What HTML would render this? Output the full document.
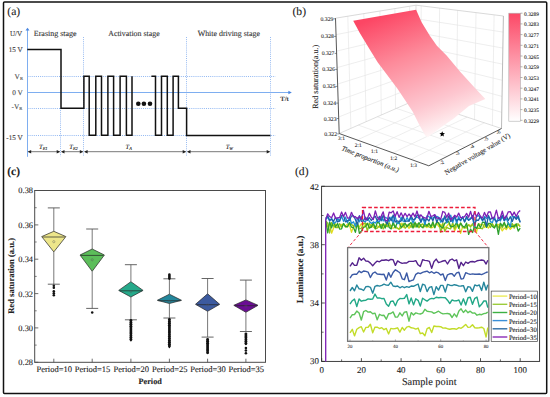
<!DOCTYPE html>
<html><head><meta charset="utf-8"><style>
html,body{margin:0;padding:0;background:#fff;width:550px;height:397px;overflow:hidden}
svg{display:block}
text{font-family:"Liberation Serif",serif;text-rendering:geometricPrecision}
</style></head><body>
<svg width="550" height="397" viewBox="0 0 550 397">
<rect width="550" height="397" fill="#fff"/>
<rect x="3.5" y="2.1" width="543.2" height="391.4" rx="1" fill="none" stroke="#111" stroke-width="1.5"/>
<text x="7.3" y="15.1" font-size="11.6" fill="#222" stroke="#222" stroke-width="0.1">(a)</text>
<line x1="27.5" y1="29.5" x2="27.5" y2="156.8" stroke="#7eaef0" stroke-width="1"/>
<path d="M27.5,27.8 L25.5,30.4 L29.5,30.4 Z" fill="#4a86e0"/>
<line x1="27.5" y1="92.5" x2="289" y2="92.5" stroke="#7eaef0" stroke-width="1"/>
<path d="M291.8,92.5 L288.4,90.8 L288.4,94.2 Z" fill="#4a86e0"/>
<line x1="27.5" y1="76.5" x2="275.5" y2="76.5" stroke="#86b0f0" stroke-width="0.9" stroke-dasharray="1,1.1"/>
<line x1="27.5" y1="108.5" x2="275.5" y2="108.5" stroke="#86b0f0" stroke-width="0.9" stroke-dasharray="1,1.1"/>
<line x1="27.5" y1="135.5" x2="275.5" y2="135.5" stroke="#86b0f0" stroke-width="0.9" stroke-dasharray="1,1.1"/>
<line x1="60.5" y1="108" x2="60.5" y2="156.5" stroke="#86b0f0" stroke-width="0.85" stroke-dasharray="1,1.1"/>
<line x1="83.5" y1="37" x2="83.5" y2="156.5" stroke="#86b0f0" stroke-width="0.85" stroke-dasharray="1,1.1"/>
<line x1="186.5" y1="37" x2="186.5" y2="156.5" stroke="#86b0f0" stroke-width="0.85" stroke-dasharray="1,1.1"/>
<line x1="270.5" y1="37" x2="270.5" y2="156.5" stroke="#86b0f0" stroke-width="0.85" stroke-dasharray="1,1.1"/>
<path d="M27.3,49.4 H61 V108.3 H83.9 V76.3 H89.2 V135.3 H95.8 V76.3 H101.5 V135.3 H107.9 V76.3 H113.6 V135.3 H120.1 V76.3 H126.4 V135.3 H132 V76.3 M151.4,76.3 H155.5 V135.3 H161.5 V76.3 H167.3 V135.3 H173.1 V76.3 H178.4 V108.3 H186.6 V135.4 H270.4" fill="none" stroke="#111" stroke-width="1.5" stroke-linejoin="miter"/>
<circle cx="138.3" cy="103.8" r="2.3" fill="#111"/>
<circle cx="143.9" cy="103.8" r="2.3" fill="#111"/>
<circle cx="150.0" cy="103.8" r="2.3" fill="#111"/>
<text x="22.2" y="35.8" font-size="7.1" fill="#444" stroke="#444" stroke-width="0.1" text-anchor="end">U/V</text>
<text x="22.6" y="51.7" font-size="7.1" fill="#444" stroke="#444" stroke-width="0.1" text-anchor="end">15 V</text>
<text x="14.6" y="78.7" font-size="7.3" fill="#444" stroke="#444" stroke-width="0.1">V<tspan font-size="4.6" dy="1.3">R</tspan></text>
<text x="22.8" y="94.5" font-size="7.3" fill="#444" stroke="#444" stroke-width="0.1" text-anchor="end">0 V</text>
<text x="11.6" y="109" font-size="7.3" fill="#444" stroke="#444" stroke-width="0.1">-V<tspan font-size="4.6" dy="1.3">R</tspan></text>
<text x="22.6" y="139.5" font-size="7.1" fill="#444" stroke="#444" stroke-width="0.1" text-anchor="end">-15 V</text>
<text x="33.8" y="36.4" font-size="8.0" fill="#333" stroke="#333" stroke-width="0.1">Erasing stage</text>
<text x="108.2" y="36.4" font-size="7.9" fill="#333" stroke="#333" stroke-width="0.1">Activation stage</text>
<text x="197.7" y="36.4" font-size="7.9" fill="#333" stroke="#333" stroke-width="0.1">White driving stage</text>
<text x="280.3" y="101" font-size="6.6" fill="#3a3a3a" stroke="#3a3a3a" stroke-width="0.1" font-weight="bold">T/t</text>
<line x1="28.6" y1="151.7" x2="59.3" y2="151.7" stroke="#555" stroke-width="0.8"/><path d="M27.6,151.7 L31.200000000000003,150.0 L31.200000000000003,153.39999999999998 Z" fill="#222"/><path d="M60.3,151.7 L56.699999999999996,150.0 L56.699999999999996,153.39999999999998 Z" fill="#222"/>
<line x1="61.9" y1="151.7" x2="82.4" y2="151.7" stroke="#555" stroke-width="0.8"/><path d="M60.9,151.7 L64.5,150.0 L64.5,153.39999999999998 Z" fill="#222"/><path d="M83.4,151.7 L79.80000000000001,150.0 L79.80000000000001,153.39999999999998 Z" fill="#222"/>
<line x1="85.0" y1="151.7" x2="185.3" y2="151.7" stroke="#555" stroke-width="0.8"/><path d="M84.0,151.7 L87.6,150.0 L87.6,153.39999999999998 Z" fill="#222"/><path d="M186.3,151.7 L182.70000000000002,150.0 L182.70000000000002,153.39999999999998 Z" fill="#222"/>
<line x1="187.9" y1="151.7" x2="269.3" y2="151.7" stroke="#555" stroke-width="0.8"/><path d="M186.9,151.7 L190.5,150.0 L190.5,153.39999999999998 Z" fill="#222"/><path d="M270.3,151.7 L266.7,150.0 L266.7,153.39999999999998 Z" fill="#222"/>
<text x="43.3" y="148.9" font-size="6.6" font-style="italic" fill="#222" stroke="#222" stroke-width="0.1" text-anchor="middle">T<tspan font-size="4.4" dy="0.8">E1</tspan></text>
<text x="73.5" y="148.9" font-size="6.6" font-style="italic" fill="#222" stroke="#222" stroke-width="0.1" text-anchor="middle">T<tspan font-size="4.4" dy="0.8">E2</tspan></text>
<text x="128.8" y="148.9" font-size="6.6" font-style="italic" fill="#222" stroke="#222" stroke-width="0.1" text-anchor="middle">T<tspan font-size="4.4" dy="0.8">A</tspan></text>
<text x="229.3" y="148.9" font-size="6.6" font-style="italic" fill="#222" stroke="#222" stroke-width="0.1" text-anchor="middle">T<tspan font-size="4.4" dy="0.8">W</tspan></text>
<text x="292.5" y="15.1" font-size="11.6" fill="#222" stroke="#222" stroke-width="0.1">(b)</text>
<line x1="347.8" y1="16.2" x2="350.9" y2="128.4" stroke="#e3e3e3" stroke-width="0.6"/>
<line x1="363.8" y1="13.6" x2="366.1" y2="121.7" stroke="#e3e3e3" stroke-width="0.6"/>
<line x1="379.9" y1="11.0" x2="381.3" y2="115.0" stroke="#e3e3e3" stroke-width="0.6"/>
<line x1="394.9" y1="8.6" x2="395.5" y2="108.8" stroke="#e3e3e3" stroke-width="0.6"/>
<line x1="409.6" y1="6.2" x2="409.4" y2="102.7" stroke="#e3e3e3" stroke-width="0.6"/>
<line x1="336.0" y1="34.7" x2="415.9" y2="18.7" stroke="#e3e3e3" stroke-width="0.6"/>
<line x1="336.6" y1="51.1" x2="415.9" y2="32.3" stroke="#e3e3e3" stroke-width="0.6"/>
<line x1="337.1" y1="67.6" x2="415.8" y2="45.8" stroke="#e3e3e3" stroke-width="0.6"/>
<line x1="337.6" y1="84.1" x2="415.7" y2="59.4" stroke="#e3e3e3" stroke-width="0.6"/>
<line x1="338.1" y1="100.6" x2="415.6" y2="72.9" stroke="#e3e3e3" stroke-width="0.6"/>
<line x1="338.7" y1="117.0" x2="415.6" y2="86.5" stroke="#e3e3e3" stroke-width="0.6"/>
<line x1="421.2" y1="5.8" x2="420.7" y2="101.7" stroke="#e3e3e3" stroke-width="0.6"/>
<line x1="439.6" y1="8.1" x2="438.7" y2="107.7" stroke="#e3e3e3" stroke-width="0.6"/>
<line x1="457.6" y1="10.3" x2="456.4" y2="113.6" stroke="#e3e3e3" stroke-width="0.6"/>
<line x1="476.0" y1="12.6" x2="474.5" y2="119.6" stroke="#e3e3e3" stroke-width="0.6"/>
<line x1="494.1" y1="14.9" x2="492.4" y2="125.5" stroke="#e3e3e3" stroke-width="0.6"/>
<line x1="415.9" y1="18.7" x2="503.1" y2="32.1" stroke="#e3e3e3" stroke-width="0.6"/>
<line x1="415.9" y1="32.3" x2="502.9" y2="48.1" stroke="#e3e3e3" stroke-width="0.6"/>
<line x1="415.8" y1="45.8" x2="502.6" y2="64.2" stroke="#e3e3e3" stroke-width="0.6"/>
<line x1="415.7" y1="59.4" x2="502.3" y2="80.3" stroke="#e3e3e3" stroke-width="0.6"/>
<line x1="415.6" y1="72.9" x2="502.0" y2="96.4" stroke="#e3e3e3" stroke-width="0.6"/>
<line x1="415.6" y1="86.5" x2="501.8" y2="112.4" stroke="#e3e3e3" stroke-width="0.6"/>
<line x1="358.3" y1="125.1" x2="447.0" y2="156.5" stroke="#e3e3e3" stroke-width="0.6"/>
<line x1="377.4" y1="116.8" x2="465.1" y2="147.2" stroke="#e3e3e3" stroke-width="0.6"/>
<line x1="396.4" y1="108.4" x2="483.3" y2="137.8" stroke="#e3e3e3" stroke-width="0.6"/>
<line x1="357.1" y1="140.0" x2="432.7" y2="105.7" stroke="#e3e3e3" stroke-width="0.6"/>
<line x1="375.0" y1="146.4" x2="449.9" y2="111.4" stroke="#e3e3e3" stroke-width="0.6"/>
<line x1="393.0" y1="152.9" x2="467.1" y2="117.1" stroke="#e3e3e3" stroke-width="0.6"/>
<line x1="410.9" y1="159.3" x2="484.3" y2="122.8" stroke="#e3e3e3" stroke-width="0.6"/>
<line x1="335.5" y1="18.2" x2="416.0" y2="5.2" stroke="#c8c8c8" stroke-width="0.7"/>
<line x1="416.0" y1="5.2" x2="503.4" y2="16.0" stroke="#c8c8c8" stroke-width="0.7"/>
<line x1="416.0" y1="5.2" x2="415.5" y2="100.0" stroke="#c8c8c8" stroke-width="0.6"/>
<line x1="503.4" y1="16.0" x2="501.5" y2="128.5" stroke="#aaa" stroke-width="0.8"/>
<line x1="339.2" y1="133.5" x2="415.5" y2="100.0" stroke="#c8c8c8" stroke-width="0.6"/>
<line x1="415.5" y1="100.0" x2="501.5" y2="128.5" stroke="#c8c8c8" stroke-width="0.6"/>
<line x1="335.5" y1="18.2" x2="339.2" y2="133.5" stroke="#444" stroke-width="0.9"/>
<line x1="339.2" y1="133.5" x2="428.8" y2="165.8" stroke="#444" stroke-width="0.9"/>
<line x1="428.8" y1="165.8" x2="501.5" y2="128.5" stroke="#444" stroke-width="0.9"/>
<defs><linearGradient id="sg" gradientUnits="userSpaceOnUse" x1="384" y1="14" x2="432" y2="135"><stop offset="0" stop-color="rgb(252,70,100)"/><stop offset="0.37" stop-color="rgb(253,138,154)"/><stop offset="0.77" stop-color="rgb(253,199,208)"/><stop offset="0.86" stop-color="rgb(254,217,222)"/><stop offset="1" stop-color="rgb(255,246,247)"/></linearGradient><linearGradient id="cb" x1="0" y1="0" x2="0" y2="1"><stop offset="0" stop-color="rgb(252,72,102)"/><stop offset="1" stop-color="#ffffff"/></linearGradient></defs>
<path d="M353.2,20.8 L416.1,9.7 L421.6,22.2 L430,36 L436.9,45.7 L446.6,55.4 L460.4,72 L474.3,87.3 L485.3,99 L469,106 L453.8,118.5 L440,128 L427.7,137.2 L425.2,135.4 L418.9,124 L412.6,111.4 L405,100 L397.5,88.7 L387.6,75.6 L377.8,62.5 L369.6,49.3 L359.8,33 Z" fill="url(#sg)"/>
<polygon points="442.20,131.20 442.97,133.04 444.96,133.20 443.44,134.50 443.90,136.45 442.20,135.41 440.50,136.45 440.96,134.50 439.44,133.20 441.43,133.04" fill="#000"/>
<line x1="333.5192541196878" y1="18.8" x2="335.5192541196878" y2="18.8" stroke="#444" stroke-width="0.6"/>
<text x="333.3192541196878" y="20.8" font-size="5.7" fill="#333" stroke="#333" stroke-width="0.1" text-anchor="end">0.329</text>
<line x1="334.08404163052904" y1="36.4" x2="336.08404163052904" y2="36.4" stroke="#444" stroke-width="0.6"/>
<text x="333.88404163052905" y="38.4" font-size="5.7" fill="#333" stroke="#333" stroke-width="0.1" text-anchor="end">0.328</text>
<line x1="334.62957502168257" y1="53.4" x2="336.62957502168257" y2="53.4" stroke="#444" stroke-width="0.6"/>
<text x="334.4295750216826" y="55.4" font-size="5.7" fill="#333" stroke="#333" stroke-width="0.1" text-anchor="end">0.327</text>
<line x1="335.14301821335647" y1="69.4" x2="337.14301821335647" y2="69.4" stroke="#444" stroke-width="0.6"/>
<text x="334.9430182133565" y="71.4" font-size="5.7" fill="#333" stroke="#333" stroke-width="0.1" text-anchor="end">0.326</text>
<line x1="335.68855160451" y1="86.4" x2="337.68855160451" y2="86.4" stroke="#444" stroke-width="0.6"/>
<text x="335.48855160451" y="88.4" font-size="5.7" fill="#333" stroke="#333" stroke-width="0.1" text-anchor="end">0.325</text>
<line x1="336.2244579358196" y1="103.1" x2="338.2244579358196" y2="103.1" stroke="#444" stroke-width="0.6"/>
<text x="336.0244579358196" y="105.1" font-size="5.7" fill="#333" stroke="#333" stroke-width="0.1" text-anchor="end">0.324</text>
<line x1="336.7186470078057" y1="118.5" x2="338.7186470078057" y2="118.5" stroke="#444" stroke-width="0.6"/>
<text x="336.5186470078057" y="120.5" font-size="5.7" fill="#333" stroke="#333" stroke-width="0.1" text-anchor="end">0.323</text>
<line x1="337.2128360797918" y1="133.9" x2="339.2128360797918" y2="133.9" stroke="#444" stroke-width="0.6"/>
<text x="337.01283607979184" y="135.9" font-size="5.7" fill="#333" stroke="#333" stroke-width="0.1" text-anchor="end">0.322</text>
<text transform="translate(317.5,76.8) rotate(-90)" font-size="8.1" fill="#2a2a2a" stroke="#2a2a2a" stroke-width="0.1" text-anchor="middle">Red saturation(a.u.)</text>
<text x="341.5" y="140.3" font-size="5.4" fill="#333" stroke="#333" stroke-width="0.1" text-anchor="middle">3:1</text>
<text x="358.2" y="146.70000000000002" font-size="5.4" fill="#333" stroke="#333" stroke-width="0.1" text-anchor="middle">2:1</text>
<text x="374.5" y="153.1" font-size="5.4" fill="#333" stroke="#333" stroke-width="0.1" text-anchor="middle">1:1</text>
<text x="393.7" y="159.5" font-size="5.4" fill="#333" stroke="#333" stroke-width="0.1" text-anchor="middle">1:2</text>
<text x="413.6" y="167.1" font-size="5.4" fill="#333" stroke="#333" stroke-width="0.1" text-anchor="middle">1:3</text>
<text transform="translate(369.6,161.2) rotate(21.5)" font-size="6.85" font-style="italic" fill="#2a2a2a" stroke="#2a2a2a" stroke-width="0.1" text-anchor="middle">Time proportion (a.u.)</text>
<text transform="translate(442.7,164.1) rotate(-30)" font-size="5" fill="#333" stroke="#333" stroke-width="0.1" text-anchor="middle">-2</text>
<text transform="translate(458.2,155.0) rotate(-30)" font-size="5" fill="#333" stroke="#333" stroke-width="0.1" text-anchor="middle">-3</text>
<text transform="translate(472.7,148.3) rotate(-30)" font-size="5" fill="#333" stroke="#333" stroke-width="0.1" text-anchor="middle">-4</text>
<text transform="translate(486.9,140.5) rotate(-30)" font-size="5" fill="#333" stroke="#333" stroke-width="0.1" text-anchor="middle">-5</text>
<text transform="translate(499.1,133.8) rotate(-30)" font-size="5" fill="#333" stroke="#333" stroke-width="0.1" text-anchor="middle">-6</text>
<text transform="translate(478.6,155.9) rotate(-30.5)" font-size="6.9" fill="#2a2a2a" stroke="#2a2a2a" stroke-width="0.1" text-anchor="middle">Negative voltage value (V)</text>
<rect x="508.8" y="13.2" width="11.7" height="108" fill="url(#cb)" stroke="#b0b0b0" stroke-width="0.6"/>
<line x1="520.5" y1="13.2" x2="522.5" y2="13.2" stroke="#666" stroke-width="0.5"/>
<text x="524.1" y="15.7" font-size="5.4" fill="#1e1e1e" stroke="#1e1e1e" stroke-width="0.1">0.3289</text>
<line x1="520.5" y1="23.9" x2="522.5" y2="23.9" stroke="#666" stroke-width="0.5"/>
<text x="524.1" y="26.4" font-size="5.4" fill="#1e1e1e" stroke="#1e1e1e" stroke-width="0.1">0.3283</text>
<line x1="520.5" y1="34.6" x2="522.5" y2="34.6" stroke="#666" stroke-width="0.5"/>
<text x="524.1" y="37.1" font-size="5.4" fill="#1e1e1e" stroke="#1e1e1e" stroke-width="0.1">0.3277</text>
<line x1="520.5" y1="45.3" x2="522.5" y2="45.3" stroke="#666" stroke-width="0.5"/>
<text x="524.1" y="47.8" font-size="5.4" fill="#1e1e1e" stroke="#1e1e1e" stroke-width="0.1">0.3271</text>
<line x1="520.5" y1="56.0" x2="522.5" y2="56.0" stroke="#666" stroke-width="0.5"/>
<text x="524.1" y="58.5" font-size="5.4" fill="#1e1e1e" stroke="#1e1e1e" stroke-width="0.1">0.3265</text>
<line x1="520.5" y1="66.8" x2="522.5" y2="66.8" stroke="#666" stroke-width="0.5"/>
<text x="524.1" y="69.2" font-size="5.4" fill="#1e1e1e" stroke="#1e1e1e" stroke-width="0.1">0.3259</text>
<line x1="520.5" y1="77.5" x2="522.5" y2="77.5" stroke="#666" stroke-width="0.5"/>
<text x="524.1" y="80.0" font-size="5.4" fill="#1e1e1e" stroke="#1e1e1e" stroke-width="0.1">0.3253</text>
<line x1="520.5" y1="88.2" x2="522.5" y2="88.2" stroke="#666" stroke-width="0.5"/>
<text x="524.1" y="90.7" font-size="5.4" fill="#1e1e1e" stroke="#1e1e1e" stroke-width="0.1">0.3247</text>
<line x1="520.5" y1="98.9" x2="522.5" y2="98.9" stroke="#666" stroke-width="0.5"/>
<text x="524.1" y="101.4" font-size="5.4" fill="#1e1e1e" stroke="#1e1e1e" stroke-width="0.1">0.3241</text>
<line x1="520.5" y1="109.6" x2="522.5" y2="109.6" stroke="#666" stroke-width="0.5"/>
<text x="524.1" y="112.1" font-size="5.4" fill="#1e1e1e" stroke="#1e1e1e" stroke-width="0.1">0.3235</text>
<line x1="520.5" y1="120.3" x2="522.5" y2="120.3" stroke="#666" stroke-width="0.5"/>
<text x="524.1" y="122.8" font-size="5.4" fill="#1e1e1e" stroke="#1e1e1e" stroke-width="0.1">0.3229</text>
<text x="7.3" y="175.2" font-size="11.4" fill="#222" stroke="#222" stroke-width="0.1" font-weight="bold">(c)</text>
<rect x="34.7" y="190.5" width="230.8" height="171.8" fill="none" stroke="#4a4a4a" stroke-width="1"/>
<line x1="34.7" y1="190.5" x2="38.300000000000004" y2="190.5" stroke="#4a4a4a" stroke-width="0.8"/>
<text x="33.0" y="193.4" font-size="8.4" fill="#222" stroke="#222" stroke-width="0.1" text-anchor="end">0.38</text>
<line x1="34.7" y1="224.9" x2="38.300000000000004" y2="224.9" stroke="#4a4a4a" stroke-width="0.8"/>
<text x="33.0" y="227.8" font-size="8.4" fill="#222" stroke="#222" stroke-width="0.1" text-anchor="end">0.36</text>
<line x1="34.7" y1="259.2" x2="38.300000000000004" y2="259.2" stroke="#4a4a4a" stroke-width="0.8"/>
<text x="33.0" y="262.1" font-size="8.4" fill="#222" stroke="#222" stroke-width="0.1" text-anchor="end">0.34</text>
<line x1="34.7" y1="293.6" x2="38.300000000000004" y2="293.6" stroke="#4a4a4a" stroke-width="0.8"/>
<text x="33.0" y="296.5" font-size="8.4" fill="#222" stroke="#222" stroke-width="0.1" text-anchor="end">0.32</text>
<line x1="34.7" y1="327.9" x2="38.300000000000004" y2="327.9" stroke="#4a4a4a" stroke-width="0.8"/>
<text x="33.0" y="330.8" font-size="8.4" fill="#222" stroke="#222" stroke-width="0.1" text-anchor="end">0.30</text>
<line x1="34.7" y1="362.3" x2="38.300000000000004" y2="362.3" stroke="#4a4a4a" stroke-width="0.8"/>
<text x="33.0" y="365.2" font-size="8.4" fill="#222" stroke="#222" stroke-width="0.1" text-anchor="end">0.28</text>
<line x1="34.7" y1="207.7" x2="36.7" y2="207.7" stroke="#4a4a4a" stroke-width="0.7"/>
<line x1="34.7" y1="242.0" x2="36.7" y2="242.0" stroke="#4a4a4a" stroke-width="0.7"/>
<line x1="34.7" y1="276.4" x2="36.7" y2="276.4" stroke="#4a4a4a" stroke-width="0.7"/>
<line x1="34.7" y1="310.8" x2="36.7" y2="310.8" stroke="#4a4a4a" stroke-width="0.7"/>
<line x1="34.7" y1="345.1" x2="36.7" y2="345.1" stroke="#4a4a4a" stroke-width="0.7"/>
<line x1="53.8" y1="362.3" x2="53.8" y2="358.7" stroke="#4a4a4a" stroke-width="0.8"/>
<line x1="92.2" y1="362.3" x2="92.2" y2="358.7" stroke="#4a4a4a" stroke-width="0.8"/>
<line x1="130.9" y1="362.3" x2="130.9" y2="358.7" stroke="#4a4a4a" stroke-width="0.8"/>
<line x1="169.4" y1="362.3" x2="169.4" y2="358.7" stroke="#4a4a4a" stroke-width="0.8"/>
<line x1="207.6" y1="362.3" x2="207.6" y2="358.7" stroke="#4a4a4a" stroke-width="0.8"/>
<line x1="245.9" y1="362.3" x2="245.9" y2="358.7" stroke="#4a4a4a" stroke-width="0.8"/>
<text x="54.199999999999996" y="372.2" font-size="8.5" fill="#1a1a1a" stroke="#1a1a1a" stroke-width="0.1" text-anchor="middle">Period=10</text>
<text x="92.60000000000001" y="372.2" font-size="8.5" fill="#1a1a1a" stroke="#1a1a1a" stroke-width="0.1" text-anchor="middle">Period=15</text>
<text x="131.3" y="372.2" font-size="8.5" fill="#1a1a1a" stroke="#1a1a1a" stroke-width="0.1" text-anchor="middle">Period=20</text>
<text x="169.8" y="372.2" font-size="8.5" fill="#1a1a1a" stroke="#1a1a1a" stroke-width="0.1" text-anchor="middle">Period=25</text>
<text x="208.0" y="372.2" font-size="8.5" fill="#1a1a1a" stroke="#1a1a1a" stroke-width="0.1" text-anchor="middle">Period=30</text>
<text x="246.3" y="372.2" font-size="8.5" fill="#1a1a1a" stroke="#1a1a1a" stroke-width="0.1" text-anchor="middle">Period=35</text>
<text x="150.2" y="384.4" font-size="8.2" fill="#222" stroke="#222" stroke-width="0.1" font-weight="bold" text-anchor="middle">Period</text>
<text transform="translate(14.0,275.9) rotate(-90)" font-size="8.6" fill="#222" stroke="#222" stroke-width="0.1" font-weight="bold" text-anchor="middle">Red saturation (a.u.)</text>
<line x1="53.8" y1="207.9" x2="53.8" y2="231.3" stroke="#555" stroke-width="0.8"/>
<line x1="53.8" y1="251.9" x2="53.8" y2="284.2" stroke="#555" stroke-width="0.8"/>
<line x1="47.8" y1="207.9" x2="59.8" y2="207.9" stroke="#555" stroke-width="0.9"/>
<line x1="47.8" y1="284.2" x2="59.8" y2="284.2" stroke="#555" stroke-width="0.9"/>
<polygon points="53.8,231.3 65.89999999999999,236.6 53.8,251.9 41.699999999999996,236.6" fill="#ede68a" stroke="#222" stroke-width="0.7"/>
<line x1="42.699999999999996" y1="237.0" x2="64.89999999999999" y2="237.0" stroke="#222" stroke-width="0.7"/>
<circle cx="53.8" cy="241.7" r="1.1" fill="none" stroke="#555" stroke-width="0.4"/>
<circle cx="53.8" cy="285.8" r="1.25" fill="#111"/>
<circle cx="53.8" cy="287.8" r="1.25" fill="#111"/>
<circle cx="53.8" cy="291.3" r="1.25" fill="#111"/>
<circle cx="53.8" cy="293.3" r="1.25" fill="#111"/>
<circle cx="53.8" cy="295.3" r="1.25" fill="#111"/>
<line x1="92.2" y1="229.0" x2="92.2" y2="249.0" stroke="#555" stroke-width="0.8"/>
<line x1="92.2" y1="271.3" x2="92.2" y2="308.4" stroke="#555" stroke-width="0.8"/>
<line x1="86.2" y1="229.0" x2="98.2" y2="229.0" stroke="#555" stroke-width="0.9"/>
<line x1="86.2" y1="308.4" x2="98.2" y2="308.4" stroke="#555" stroke-width="0.9"/>
<polygon points="92.2,249.0 104.4,255.0 92.2,271.3 80.0,255.0" fill="#5cbd5a" stroke="#222" stroke-width="0.7"/>
<line x1="81.0" y1="255.4" x2="103.4" y2="255.4" stroke="#222" stroke-width="0.7"/>
<circle cx="92.2" cy="259.8" r="1.1" fill="none" stroke="#555" stroke-width="0.4"/>
<circle cx="92.2" cy="312.4" r="1.25" fill="#111"/>
<line x1="130.9" y1="264.7" x2="130.9" y2="281.7" stroke="#555" stroke-width="0.8"/>
<line x1="130.9" y1="297.0" x2="130.9" y2="319.8" stroke="#555" stroke-width="0.8"/>
<line x1="124.9" y1="264.7" x2="136.9" y2="264.7" stroke="#555" stroke-width="0.9"/>
<line x1="124.9" y1="319.8" x2="136.9" y2="319.8" stroke="#555" stroke-width="0.9"/>
<polygon points="130.9,281.7 143.1,290.4 130.9,297.0 118.7,290.4" fill="#26a98a" stroke="#222" stroke-width="0.7"/>
<line x1="119.7" y1="290.79999999999995" x2="142.1" y2="290.79999999999995" stroke="#222" stroke-width="0.7"/>
<circle cx="130.9" cy="291.5" r="1.1" fill="none" stroke="#555" stroke-width="0.4"/>
<line x1="130.9" y1="320.5" x2="130.9" y2="340.8" stroke="#111" stroke-width="1.5" stroke-linecap="round"/>
<circle cx="130.9" cy="320.5" r="1.45" fill="#111"/>
<circle cx="130.9" cy="322.4" r="1.45" fill="#111"/>
<circle cx="130.9" cy="324.3" r="1.45" fill="#111"/>
<circle cx="130.9" cy="326.2" r="1.45" fill="#111"/>
<circle cx="130.9" cy="328.1" r="1.45" fill="#111"/>
<circle cx="130.9" cy="330.0" r="1.45" fill="#111"/>
<circle cx="130.9" cy="331.9" r="1.45" fill="#111"/>
<circle cx="130.9" cy="333.8" r="1.45" fill="#111"/>
<circle cx="130.9" cy="335.7" r="1.45" fill="#111"/>
<circle cx="130.9" cy="337.6" r="1.45" fill="#111"/>
<circle cx="130.9" cy="339.5" r="1.45" fill="#111"/>
<line x1="169.4" y1="278.8" x2="169.4" y2="294.2" stroke="#555" stroke-width="0.8"/>
<line x1="169.4" y1="303.5" x2="169.4" y2="318.0" stroke="#555" stroke-width="0.8"/>
<line x1="163.4" y1="278.8" x2="175.4" y2="278.8" stroke="#555" stroke-width="0.9"/>
<line x1="163.4" y1="318.0" x2="175.4" y2="318.0" stroke="#555" stroke-width="0.9"/>
<polygon points="169.4,294.2 181.5,300.3 169.4,303.5 157.3,300.3" fill="#23879c" stroke="#222" stroke-width="0.7"/>
<line x1="158.3" y1="300.7" x2="180.5" y2="300.7" stroke="#222" stroke-width="0.7"/>
<circle cx="169.4" cy="301.2" r="1.1" fill="none" stroke="#555" stroke-width="0.4"/>
<line x1="169.4" y1="319.5" x2="169.4" y2="347.6" stroke="#111" stroke-width="1.5" stroke-linecap="round"/>
<circle cx="169.4" cy="319.5" r="1.45" fill="#111"/>
<circle cx="169.4" cy="321.4" r="1.45" fill="#111"/>
<circle cx="169.4" cy="323.3" r="1.45" fill="#111"/>
<circle cx="169.4" cy="325.2" r="1.45" fill="#111"/>
<circle cx="169.4" cy="327.1" r="1.45" fill="#111"/>
<circle cx="169.4" cy="329.0" r="1.45" fill="#111"/>
<circle cx="169.4" cy="330.9" r="1.45" fill="#111"/>
<circle cx="169.4" cy="332.8" r="1.45" fill="#111"/>
<circle cx="169.4" cy="334.7" r="1.45" fill="#111"/>
<circle cx="169.4" cy="336.6" r="1.45" fill="#111"/>
<circle cx="169.4" cy="338.5" r="1.45" fill="#111"/>
<circle cx="169.4" cy="340.4" r="1.45" fill="#111"/>
<circle cx="169.4" cy="342.3" r="1.45" fill="#111"/>
<circle cx="169.4" cy="344.2" r="1.45" fill="#111"/>
<circle cx="169.4" cy="346.1" r="1.45" fill="#111"/>
<line x1="207.6" y1="278.5" x2="207.6" y2="293.8" stroke="#555" stroke-width="0.8"/>
<line x1="207.6" y1="311.3" x2="207.6" y2="337.1" stroke="#555" stroke-width="0.8"/>
<line x1="201.6" y1="278.5" x2="213.6" y2="278.5" stroke="#555" stroke-width="0.9"/>
<line x1="201.6" y1="337.1" x2="213.6" y2="337.1" stroke="#555" stroke-width="0.9"/>
<polygon points="207.6,293.8 219.7,304.3 207.6,311.3 195.5,304.3" fill="#3c5a9f" stroke="#222" stroke-width="0.7"/>
<line x1="196.5" y1="304.7" x2="218.7" y2="304.7" stroke="#222" stroke-width="0.7"/>
<circle cx="207.6" cy="305.0" r="1.1" fill="none" stroke="#555" stroke-width="0.4"/>
<line x1="207.6" y1="339.4" x2="207.6" y2="353.0" stroke="#111" stroke-width="1.5" stroke-linecap="round"/>
<circle cx="207.6" cy="339.4" r="1.45" fill="#111"/>
<circle cx="207.6" cy="341.3" r="1.45" fill="#111"/>
<circle cx="207.6" cy="343.2" r="1.45" fill="#111"/>
<circle cx="207.6" cy="345.1" r="1.45" fill="#111"/>
<circle cx="207.6" cy="347.0" r="1.45" fill="#111"/>
<circle cx="207.6" cy="348.9" r="1.45" fill="#111"/>
<circle cx="207.6" cy="350.8" r="1.45" fill="#111"/>
<circle cx="207.6" cy="352.7" r="1.45" fill="#111"/>
<line x1="245.9" y1="280.1" x2="245.9" y2="299.9" stroke="#555" stroke-width="0.8"/>
<line x1="245.9" y1="312.3" x2="245.9" y2="331.5" stroke="#555" stroke-width="0.8"/>
<line x1="239.9" y1="280.1" x2="251.9" y2="280.1" stroke="#555" stroke-width="0.9"/>
<line x1="239.9" y1="331.5" x2="251.9" y2="331.5" stroke="#555" stroke-width="0.9"/>
<polygon points="245.9,299.9 258.0,305.3 245.9,312.3 233.8,305.3" fill="#6a0d93" stroke="#222" stroke-width="0.7"/>
<line x1="234.8" y1="305.7" x2="257.0" y2="305.7" stroke="#222" stroke-width="0.7"/>
<circle cx="245.9" cy="306.0" r="1.1" fill="none" stroke="#555" stroke-width="0.4"/>
<line x1="245.9" y1="334.0" x2="245.9" y2="344.5" stroke="#111" stroke-width="1.5" stroke-linecap="round"/>
<circle cx="245.9" cy="334.0" r="1.45" fill="#111"/>
<circle cx="245.9" cy="335.9" r="1.45" fill="#111"/>
<circle cx="245.9" cy="337.8" r="1.45" fill="#111"/>
<circle cx="245.9" cy="339.7" r="1.45" fill="#111"/>
<circle cx="245.9" cy="341.6" r="1.45" fill="#111"/>
<circle cx="245.9" cy="343.5" r="1.45" fill="#111"/>
<circle cx="245.9" cy="348.0" r="1.3" fill="#111"/>
<circle cx="245.9" cy="350.5" r="1.3" fill="#111"/>
<circle cx="245.9" cy="353.2" r="1.3" fill="#111"/>
<line x1="169.4" y1="274.6" x2="169.4" y2="278.6" stroke="#111" stroke-width="2.6" stroke-linecap="round"/>
<text x="295" y="175.2" font-size="11.6" fill="#222" stroke="#222" stroke-width="0.1">(d)</text>
<rect x="321.6" y="186.3" width="218.0" height="175.09999999999997" fill="none" stroke="#2a2a2a" stroke-width="0.9"/>
<line x1="321.6" y1="186.3" x2="324.8" y2="186.3" stroke="#2a2a2a" stroke-width="0.8"/>
<text x="318.9" y="189.5" font-size="8.9" fill="#222" stroke="#222" stroke-width="0.1" text-anchor="end">42</text>
<line x1="321.6" y1="244.7" x2="324.8" y2="244.7" stroke="#2a2a2a" stroke-width="0.8"/>
<text x="318.9" y="247.9" font-size="8.9" fill="#222" stroke="#222" stroke-width="0.1" text-anchor="end">38</text>
<line x1="321.6" y1="303.0" x2="324.8" y2="303.0" stroke="#2a2a2a" stroke-width="0.8"/>
<text x="318.9" y="306.2" font-size="8.9" fill="#222" stroke="#222" stroke-width="0.1" text-anchor="end">34</text>
<line x1="321.6" y1="361.4" x2="324.8" y2="361.4" stroke="#2a2a2a" stroke-width="0.8"/>
<text x="318.9" y="363.6" font-size="8.9" fill="#222" stroke="#222" stroke-width="0.1" text-anchor="end">30</text>
<line x1="321.6" y1="215.5" x2="323.6" y2="215.5" stroke="#2a2a2a" stroke-width="0.7"/>
<line x1="321.6" y1="273.9" x2="323.6" y2="273.9" stroke="#2a2a2a" stroke-width="0.7"/>
<line x1="321.6" y1="332.2" x2="323.6" y2="332.2" stroke="#2a2a2a" stroke-width="0.7"/>
<line x1="321.7" y1="361.4" x2="321.7" y2="358.2" stroke="#2a2a2a" stroke-width="0.8"/>
<text x="321.7" y="373.0" font-size="8.9" fill="#222" stroke="#222" stroke-width="0.1" text-anchor="middle">0</text>
<line x1="361.4" y1="361.4" x2="361.4" y2="358.2" stroke="#2a2a2a" stroke-width="0.8"/>
<text x="361.4" y="373.0" font-size="8.9" fill="#222" stroke="#222" stroke-width="0.1" text-anchor="middle">20</text>
<line x1="401.1" y1="361.4" x2="401.1" y2="358.2" stroke="#2a2a2a" stroke-width="0.8"/>
<text x="401.1" y="373.0" font-size="8.9" fill="#222" stroke="#222" stroke-width="0.1" text-anchor="middle">40</text>
<line x1="440.8" y1="361.4" x2="440.8" y2="358.2" stroke="#2a2a2a" stroke-width="0.8"/>
<text x="440.8" y="373.0" font-size="8.9" fill="#222" stroke="#222" stroke-width="0.1" text-anchor="middle">60</text>
<line x1="480.5" y1="361.4" x2="480.5" y2="358.2" stroke="#2a2a2a" stroke-width="0.8"/>
<text x="480.5" y="373.0" font-size="8.9" fill="#222" stroke="#222" stroke-width="0.1" text-anchor="middle">80</text>
<line x1="520.2" y1="361.4" x2="520.2" y2="358.2" stroke="#2a2a2a" stroke-width="0.8"/>
<text x="520.2" y="373.0" font-size="8.9" fill="#222" stroke="#222" stroke-width="0.1" text-anchor="middle">100</text>
<line x1="341.6" y1="361.4" x2="341.6" y2="359.4" stroke="#2a2a2a" stroke-width="0.7"/>
<line x1="381.2" y1="361.4" x2="381.2" y2="359.4" stroke="#2a2a2a" stroke-width="0.7"/>
<line x1="420.9" y1="361.4" x2="420.9" y2="359.4" stroke="#2a2a2a" stroke-width="0.7"/>
<line x1="460.6" y1="361.4" x2="460.6" y2="359.4" stroke="#2a2a2a" stroke-width="0.7"/>
<line x1="500.4" y1="361.4" x2="500.4" y2="359.4" stroke="#2a2a2a" stroke-width="0.7"/>
<text x="429.2" y="385" font-size="10.3" fill="#222" stroke="#222" stroke-width="0.1" text-anchor="middle">Sample point</text>
<text transform="translate(302.8,269.5) rotate(-90)" font-size="9.25" fill="#222" stroke="#222" stroke-width="0.1" font-weight="bold" text-anchor="middle">Luminance (a.u.)</text>
<polyline points="325.7,222.0 327.7,227.1 329.6,223.5 331.6,233.2 333.6,227.9 335.6,223.8 337.6,226.6 339.6,227.7 341.6,224.3 343.5,224.4 345.5,226.4 347.5,223.9 349.5,224.9 351.5,232.3 353.5,226.4 355.4,227.2 357.4,225.7 359.4,226.9 361.4,223.7 363.4,227.8 365.4,223.5 367.4,223.7 369.3,227.5 371.3,224.6 373.3,227.4 375.3,227.5 377.3,225.8 379.3,227.3 381.2,224.5 383.2,226.1 385.2,223.9 387.2,226.6 389.2,225.1 391.2,227.8 393.2,228.2 395.1,227.0 397.1,228.4 399.1,229.2 401.1,223.1 403.1,227.5 405.1,224.9 407.1,224.7 409.0,228.4 411.0,224.7 413.0,227.4 415.0,225.1 417.0,225.1 419.0,227.3 420.9,224.4 422.9,227.6 424.9,225.0 426.9,227.6 428.9,223.7 430.9,227.8 432.9,227.4 434.8,225.1 436.8,223.5 438.8,226.6 440.8,224.3 442.8,228.7 444.8,227.9 446.8,226.1 448.7,223.6 450.7,227.5 452.7,224.8 454.7,230.8 456.7,226.6 458.7,224.7 460.6,233.4 462.6,226.8 464.6,227.4 466.6,228.1 468.6,224.7 470.6,225.7 472.6,225.0 474.5,227.7 476.5,232.4 478.5,223.6 480.5,224.6 482.5,224.3 484.5,227.5 486.5,225.3 488.4,228.1 490.4,224.7 492.4,223.9 494.4,227.5 496.4,223.9 498.4,224.5 500.4,227.4 502.3,230.9 504.3,228.0 506.3,229.6 508.3,226.5 510.3,229.4 512.3,227.0 514.2,224.5 516.2,226.4 518.2,225.1 520.2,225.4" fill="none" stroke="#e2dc1e" stroke-width="1.3" stroke-linejoin="round"/>
<polyline points="325.7,221.0 327.7,223.3 329.6,233.0 331.6,222.5 333.6,225.9 335.6,227.6 337.6,227.6 339.6,223.7 341.6,226.9 343.5,223.8 345.5,227.2 347.5,226.9 349.5,222.7 351.5,224.2 353.5,226.2 355.4,223.4 357.4,223.3 359.4,228.8 361.4,228.2 363.4,223.5 365.4,223.0 367.4,231.4 369.3,223.0 371.3,227.3 373.3,224.7 375.3,229.0 377.3,228.1 379.3,226.1 381.2,224.4 383.2,228.9 385.2,225.3 387.2,226.7 389.2,222.7 391.2,226.7 393.2,224.5 395.1,226.1 397.1,227.7 399.1,229.2 401.1,228.0 403.1,223.2 405.1,228.3 407.1,226.0 409.0,224.1 411.0,227.4 413.0,223.4 415.0,227.2 417.0,223.6 419.0,227.7 420.9,224.9 422.9,223.9 424.9,226.9 426.9,224.8 428.9,227.0 430.9,227.6 432.9,223.9 434.8,227.3 436.8,222.4 438.8,222.7 440.8,232.3 442.8,223.0 444.8,231.3 446.8,227.4 448.7,228.3 450.7,228.8 452.7,222.8 454.7,228.8 456.7,223.7 458.7,226.8 460.6,223.1 462.6,227.4 464.6,228.2 466.6,226.5 468.6,224.9 470.6,227.0 472.6,223.7 474.5,227.7 476.5,227.6 478.5,228.4 480.5,228.2 482.5,228.8 484.5,223.8 486.5,227.0 488.4,223.9 490.4,227.5 492.4,223.8 494.4,227.4 496.4,223.9 498.4,227.9 500.4,223.6 502.3,227.9 504.3,223.6 506.3,228.2 508.3,223.3 510.3,227.0 512.3,223.4 514.2,228.2 516.2,224.1 518.2,223.9 520.2,226.8" fill="none" stroke="#8fc31f" stroke-width="1.3" stroke-linejoin="round"/>
<polyline points="325.7,220.5 327.7,232.9 329.6,221.8 331.6,227.8 333.6,221.5 335.6,226.9 337.6,223.5 339.6,229.1 341.6,228.8 343.5,223.4 345.5,226.3 347.5,226.7 349.5,222.4 351.5,227.2 353.5,227.5 355.4,232.3 357.4,222.7 359.4,233.3 361.4,230.8 363.4,227.5 365.4,226.7 367.4,223.3 369.3,228.1 371.3,226.9 373.3,222.6 375.3,228.5 377.3,222.2 379.3,223.1 381.2,228.5 383.2,223.5 385.2,228.0 387.2,221.1 389.2,227.5 391.2,228.9 393.2,221.7 395.1,227.9 397.1,223.0 399.1,222.0 401.1,227.6 403.1,225.6 405.1,223.2 407.1,226.8 409.0,224.2 411.0,222.5 413.0,228.1 415.0,222.2 417.0,227.2 419.0,222.6 420.9,226.5 422.9,227.8 424.9,223.2 426.9,226.2 428.9,223.1 430.9,226.8 432.9,221.8 434.8,227.9 436.8,221.5 438.8,223.6 440.8,226.8 442.8,227.9 444.8,223.2 446.8,222.4 448.7,221.4 450.7,226.6 452.7,226.7 454.7,225.5 456.7,222.4 458.7,228.4 460.6,223.1 462.6,226.0 464.6,227.2 466.6,223.1 468.6,234.4 470.6,229.1 472.6,232.5 474.5,226.3 476.5,228.5 478.5,223.8 480.5,227.6 482.5,222.1 484.5,222.4 486.5,227.3 488.4,223.4 490.4,223.4 492.4,226.5 494.4,228.0 496.4,223.9 498.4,234.3 500.4,223.2 502.3,226.0 504.3,222.4 506.3,227.4 508.3,222.9 510.3,226.8 512.3,226.1 514.2,226.3 516.2,224.0 518.2,231.2 520.2,228.2" fill="none" stroke="#2ca02c" stroke-width="1.3" stroke-linejoin="round"/>
<polyline points="325.7,219.5 327.7,217.3 329.6,221.0 331.6,218.0 333.6,223.4 335.6,222.5 337.6,218.2 339.6,221.5 341.6,216.1 343.5,221.4 345.5,217.1 347.5,222.8 349.5,217.0 351.5,223.5 353.5,221.8 355.4,226.6 357.4,217.9 359.4,221.8 361.4,216.2 363.4,220.9 365.4,222.0 367.4,217.5 369.3,221.3 371.3,223.4 373.3,221.9 375.3,223.0 377.3,220.6 379.3,222.0 381.2,216.7 383.2,221.0 385.2,217.3 387.2,218.4 389.2,221.4 391.2,217.0 393.2,222.6 395.1,216.2 397.1,223.5 399.1,223.4 401.1,217.1 403.1,221.1 405.1,221.6 407.1,217.6 409.0,221.1 411.0,217.5 413.0,223.1 415.0,218.2 417.0,217.0 419.0,218.3 420.9,221.7 422.9,217.5 424.9,224.7 426.9,216.0 428.9,216.7 430.9,218.1 432.9,217.8 434.8,217.4 436.8,216.4 438.8,217.4 440.8,222.3 442.8,218.7 444.8,218.5 446.8,222.8 448.7,219.2 450.7,215.2 452.7,222.5 454.7,216.9 456.7,223.2 458.7,216.7 460.6,220.9 462.6,216.6 464.6,222.0 466.6,217.9 468.6,220.4 470.6,217.9 472.6,218.6 474.5,226.8 476.5,216.5 478.5,215.7 480.5,217.4 482.5,221.0 484.5,216.4 486.5,218.6 488.4,216.4 490.4,221.6 492.4,222.6 494.4,216.5 496.4,223.3 498.4,217.3 500.4,221.0 502.3,216.6 504.3,220.7 506.3,218.6 508.3,223.2 510.3,226.8 512.3,215.5 514.2,217.7 516.2,217.2 518.2,218.4 520.2,221.8" fill="none" stroke="#1f8fd6" stroke-width="1.3" stroke-linejoin="round"/>
<polyline points="325.7,218.5 327.7,215.8 329.6,220.3 331.6,219.5 333.6,221.1 335.6,217.2 337.6,222.1 339.6,220.6 341.6,215.7 343.5,215.6 345.5,221.9 347.5,220.7 349.5,220.3 351.5,215.9 353.5,215.7 355.4,219.4 357.4,224.8 359.4,215.6 361.4,221.4 363.4,220.8 365.4,217.2 367.4,220.3 369.3,217.5 371.3,220.5 373.3,217.8 375.3,216.3 377.3,220.9 379.3,216.4 381.2,220.8 383.2,215.1 385.2,221.3 387.2,223.9 389.2,217.2 391.2,220.7 393.2,215.0 395.1,222.0 397.1,220.9 399.1,221.5 401.1,221.0 403.1,216.6 405.1,221.7 407.1,221.0 409.0,221.2 411.0,215.5 413.0,219.8 415.0,219.2 417.0,215.3 419.0,215.0 420.9,222.3 422.9,216.7 424.9,221.1 426.9,218.8 428.9,221.0 430.9,216.9 432.9,220.9 434.8,215.2 436.8,222.3 438.8,217.6 440.8,219.7 442.8,222.0 444.8,215.8 446.8,221.4 448.7,216.1 450.7,221.5 452.7,219.9 454.7,216.5 456.7,220.8 458.7,219.1 460.6,220.2 462.6,217.3 464.6,221.7 466.6,216.3 468.6,220.3 470.6,219.0 472.6,215.5 474.5,224.5 476.5,220.0 478.5,220.3 480.5,216.1 482.5,220.3 484.5,217.8 486.5,226.2 488.4,215.5 490.4,219.5 492.4,217.7 494.4,219.2 496.4,221.5 498.4,220.5 500.4,219.5 502.3,215.3 504.3,220.7 506.3,215.6 508.3,220.5 510.3,216.7 512.3,221.4 514.2,216.5 516.2,219.4 518.2,215.7 520.2,222.5" fill="none" stroke="#1f5fa6" stroke-width="1.3" stroke-linejoin="round"/>
<polyline points="325.7,361.4 325.7,219.6 327.7,213.8 329.6,216.5 331.6,217.8 333.6,213.0 335.6,218.4 337.6,217.9 339.6,217.5 341.6,212.0 343.5,216.5 345.5,212.4 347.5,218.1 349.5,217.9 351.5,212.3 353.5,216.9 355.4,216.7 357.4,218.8 359.4,216.5 361.4,219.4 363.4,210.3 365.4,219.8 367.4,218.6 369.3,213.4 371.3,217.1 373.3,219.6 375.3,210.8 377.3,217.4 379.3,219.5 381.2,216.1 383.2,211.9 385.2,220.3 387.2,220.9 389.2,212.1 391.2,212.8 393.2,210.9 395.1,216.5 397.1,211.7 399.1,217.4 401.1,212.8 403.1,217.0 405.1,213.4 407.1,216.7 409.0,214.0 411.0,216.6 413.0,213.1 415.0,216.9 417.0,211.0 419.0,218.2 420.9,214.8 422.9,217.3 424.9,217.8 426.9,218.3 428.9,211.3 430.9,216.5 432.9,215.8 434.8,214.6 436.8,218.1 438.8,218.0 440.8,218.8 442.8,211.5 444.8,212.4 446.8,217.3 448.7,213.1 450.7,219.8 452.7,217.8 454.7,215.3 456.7,217.1 458.7,213.1 460.6,217.6 462.6,217.4 464.6,216.6 466.6,213.4 468.6,217.2 470.6,211.3 472.6,218.8 474.5,211.7 476.5,216.8 478.5,212.4 480.5,216.8 482.5,218.0 484.5,212.4 486.5,217.1 488.4,212.0 490.4,211.9 492.4,218.7 494.4,217.1 496.4,210.1 498.4,218.6 500.4,217.3 502.3,211.2 504.3,218.5 506.3,216.4 508.3,211.8 510.3,211.6 512.3,215.6 514.2,212.1 516.2,216.6 518.2,212.2 520.2,210.5" fill="none" stroke="#7e1fb5" stroke-width="1.3" stroke-linejoin="round"/>
<rect x="362.5" y="207.5" width="112.5" height="24" fill="none" stroke="#ec1c3a" stroke-width="1.3" stroke-dasharray="3.6,2.2"/>
<line x1="362" y1="231.4" x2="348" y2="247.6" stroke="#ec1c3a" stroke-width="0.9" stroke-dasharray="3,2"/>
<line x1="475" y1="231.4" x2="488.5" y2="247.6" stroke="#ec1c3a" stroke-width="0.9" stroke-dasharray="3,2"/>
<rect x="347.6" y="247.6" width="141.2" height="93.70000000000002" fill="#fff" stroke="#747474" stroke-width="1.3"/>
<line x1="350.0" y1="341.3" x2="350.0" y2="339.5" stroke="#777" stroke-width="0.6"/>
<text x="350.0" y="348.2" font-size="4.8" fill="#444" stroke="#444" stroke-width="0.1" text-anchor="middle">20</text>
<line x1="395.4" y1="341.3" x2="395.4" y2="339.5" stroke="#777" stroke-width="0.6"/>
<text x="395.4" y="348.2" font-size="4.8" fill="#444" stroke="#444" stroke-width="0.1" text-anchor="middle">40</text>
<line x1="440.7" y1="341.3" x2="440.7" y2="339.5" stroke="#777" stroke-width="0.6"/>
<text x="440.7" y="348.2" font-size="4.8" fill="#444" stroke="#444" stroke-width="0.1" text-anchor="middle">60</text>
<line x1="486.1" y1="341.3" x2="486.1" y2="339.5" stroke="#777" stroke-width="0.6"/>
<text x="486.1" y="348.2" font-size="4.8" fill="#444" stroke="#444" stroke-width="0.1" text-anchor="middle">80</text>
<line x1="372.7" y1="341.3" x2="372.7" y2="340.3" stroke="#777" stroke-width="0.5"/>
<line x1="418.1" y1="341.3" x2="418.1" y2="340.3" stroke="#777" stroke-width="0.5"/>
<line x1="463.4" y1="341.3" x2="463.4" y2="340.3" stroke="#777" stroke-width="0.5"/>
<polyline points="350.0,332.8 352.3,329.3 354.5,335.9 356.8,329.2 359.1,327.6 361.3,326.7 363.6,332.0 365.9,327.4 368.1,327.2 370.4,324.2 372.7,332.7 375.0,327.1 377.2,327.2 379.5,328.5 381.8,327.7 384.0,329.7 386.3,328.4 388.6,333.9 390.8,328.4 393.1,328.9 395.4,328.5 397.6,327.8 399.9,332.1 402.2,327.5 404.4,330.2 406.7,327.1 409.0,326.4 411.2,327.8 413.5,328.1 415.8,329.1 418.1,328.1 420.3,333.7 422.6,333.0 424.9,335.7 427.1,328.6 429.4,327.5 431.7,332.5 433.9,326.0 436.2,326.5 438.5,326.5 440.7,326.7 443.0,328.1 445.3,328.0 447.5,328.7 449.8,329.3 452.1,328.7 454.3,328.8 456.6,329.2 458.9,327.6 461.1,328.3 463.4,326.6 465.7,324.4 468.0,327.4 470.2,327.1 472.5,324.8 474.8,327.8 477.0,328.0 479.3,327.8 481.6,327.2 483.8,328.5 486.1,337.0 487.8,327.5" fill="none" stroke="#c3dc2a" stroke-width="1.4" stroke-linejoin="round"/>
<polyline points="350.0,318.2 352.3,314.7 354.5,314.5 356.8,311.1 359.1,313.0 361.3,320.0 363.6,311.7 365.9,310.5 368.1,312.1 370.4,311.8 372.7,313.7 375.0,313.1 377.2,319.8 379.5,314.3 381.8,315.5 384.0,315.3 386.3,319.2 388.6,313.8 390.8,313.5 393.1,311.9 395.4,317.1 397.6,317.0 399.9,312.8 402.2,315.9 404.4,312.1 406.7,311.8 409.0,321.2 411.2,312.6 413.5,314.9 415.8,312.9 418.1,313.6 420.3,314.0 422.6,313.1 424.9,309.3 427.1,311.3 429.4,311.6 431.7,311.9 433.9,313.3 436.2,312.3 438.5,311.2 440.7,312.8 443.0,313.9 445.3,313.6 447.5,313.5 449.8,314.0 452.1,317.5 454.3,313.8 456.6,316.9 458.9,311.0 461.1,308.8 463.4,312.5 465.7,310.1 468.0,312.7 470.2,311.2 472.5,313.1 474.8,312.9 477.0,315.2 479.3,314.3 481.6,314.7 483.8,313.6 486.1,313.2 487.8,312.1" fill="none" stroke="#5ec45a" stroke-width="1.4" stroke-linejoin="round"/>
<polyline points="350.0,304.2 352.3,300.7 354.5,299.1 356.8,306.5 359.1,298.9 361.3,301.2 363.6,300.5 365.9,300.2 368.1,298.9 370.4,299.3 372.7,299.0 375.0,294.1 377.2,298.0 379.5,297.9 381.8,298.7 384.0,298.4 386.3,303.9 388.6,306.3 390.8,301.4 393.1,301.0 395.4,305.7 397.6,300.5 399.9,298.5 402.2,298.6 404.4,298.3 406.7,294.5 409.0,303.9 411.2,297.9 413.5,304.9 415.8,298.8 418.1,300.3 420.3,306.1 422.6,298.2 424.9,299.8 427.1,301.1 429.4,299.2 431.7,298.4 433.9,298.8 436.2,297.2 438.5,297.7 440.7,297.5 443.0,297.6 445.3,297.8 447.5,300.2 449.8,303.5 452.1,299.9 454.3,300.9 456.6,300.8 458.9,299.9 461.1,305.1 463.4,298.8 465.7,305.0 468.0,297.8 470.2,297.2 472.5,304.3 474.8,298.3 477.0,297.1 479.3,306.8 481.6,304.3 483.8,301.0 486.1,301.0 487.8,307.7" fill="none" stroke="#22a887" stroke-width="1.4" stroke-linejoin="round"/>
<polyline points="350.0,291.0 352.3,287.5 354.5,290.8 356.8,285.0 359.1,288.8 361.3,289.2 363.6,290.5 365.9,286.7 368.1,286.4 370.4,287.3 372.7,293.2 375.0,286.3 377.2,285.5 379.5,286.1 381.8,285.4 384.0,284.2 386.3,285.1 388.6,285.2 390.8,282.2 393.1,286.0 395.4,286.5 397.6,286.0 399.9,287.8 402.2,286.5 404.4,287.7 406.7,286.7 409.0,287.4 411.2,286.0 413.5,286.3 415.8,285.2 418.1,284.0 420.3,291.5 422.6,284.2 424.9,285.1 427.1,291.6 429.4,287.4 431.7,286.6 433.9,294.6 436.2,286.6 438.5,290.1 440.7,285.4 443.0,285.4 445.3,292.0 447.5,284.4 449.8,285.2 452.1,285.6 454.3,284.7 456.6,285.2 458.9,286.1 461.1,286.0 463.4,285.6 465.7,291.8 468.0,286.6 470.2,287.1 472.5,291.3 474.8,284.9 477.0,285.9 479.3,285.0 481.6,290.5 483.8,282.3 486.1,290.0 487.8,284.8" fill="none" stroke="#25869c" stroke-width="1.4" stroke-linejoin="round"/>
<polyline points="350.0,278.2 352.3,274.7 354.5,274.1 356.8,274.2 359.1,271.1 361.3,272.6 363.6,271.0 365.9,271.4 368.1,272.1 370.4,277.5 372.7,273.3 375.0,272.0 377.2,274.1 379.5,274.2 381.8,274.5 384.0,274.3 386.3,280.0 388.6,272.6 390.8,277.3 393.1,272.5 395.4,269.8 397.6,271.2 399.9,272.8 402.2,278.8 404.4,279.7 406.7,273.0 409.0,281.5 411.2,280.7 413.5,279.8 415.8,274.3 418.1,272.9 420.3,273.6 422.6,272.4 424.9,271.7 427.1,271.1 429.4,272.8 431.7,271.7 433.9,273.3 436.2,272.1 438.5,272.9 440.7,275.0 443.0,273.9 445.3,280.6 447.5,274.8 449.8,273.8 452.1,273.8 454.3,276.2 456.6,272.9 458.9,272.3 461.1,279.0 463.4,278.6 465.7,272.7 468.0,273.6 470.2,274.4 472.5,273.9 474.8,274.2 477.0,274.2 479.3,274.0 481.6,274.6 483.8,273.7 486.1,272.5 487.8,271.8" fill="none" stroke="#3b5aa5" stroke-width="1.4" stroke-linejoin="round"/>
<polyline points="350.0,266.3 352.3,262.8 354.5,265.4 356.8,265.3 359.1,257.8 361.3,260.2 363.6,258.3 365.9,261.1 368.1,261.2 370.4,263.1 372.7,265.8 375.0,263.1 377.2,261.1 379.5,261.8 381.8,260.1 384.0,260.2 386.3,259.8 388.6,260.7 390.8,259.4 393.1,259.7 395.4,265.4 397.6,260.9 399.9,262.3 402.2,263.4 404.4,262.9 406.7,263.0 409.0,261.4 411.2,261.4 413.5,261.4 415.8,260.6 418.1,264.8 420.3,266.4 422.6,259.8 424.9,260.4 427.1,260.6 429.4,261.3 431.7,268.4 433.9,261.7 436.2,259.1 438.5,262.6 440.7,261.9 443.0,261.0 445.3,260.5 447.5,264.0 449.8,260.2 452.1,259.0 454.3,260.8 456.6,259.8 458.9,268.5 461.1,262.3 463.4,265.7 465.7,262.0 468.0,263.4 470.2,261.7 472.5,261.5 474.8,262.0 477.0,260.8 479.3,260.4 481.6,260.0 483.8,260.4 486.1,264.0 487.8,260.3" fill="none" stroke="#55238c" stroke-width="1.4" stroke-linejoin="round"/>
<rect x="491.2" y="291.1" width="46.3" height="50.4" fill="#fff" stroke="#444" stroke-width="0.7"/>
<line x1="492.6" y1="296.1" x2="507.3" y2="296.1" stroke="#ecec5a" stroke-width="1.4"/>
<text x="508.9" y="299.0" font-size="6.7" fill="#222" stroke="#222" stroke-width="0.1">Period=10</text>
<line x1="492.6" y1="304.3" x2="507.3" y2="304.3" stroke="#9ccc3c" stroke-width="1.4"/>
<text x="508.9" y="307.2" font-size="6.7" fill="#222" stroke="#222" stroke-width="0.1">Period=15</text>
<line x1="492.6" y1="312.5" x2="507.3" y2="312.5" stroke="#3cb043" stroke-width="1.4"/>
<text x="508.9" y="315.4" font-size="6.7" fill="#222" stroke="#222" stroke-width="0.1">Period=20</text>
<line x1="492.6" y1="320.6" x2="507.3" y2="320.6" stroke="#3a8fd8" stroke-width="1.4"/>
<text x="508.9" y="323.5" font-size="6.7" fill="#222" stroke="#222" stroke-width="0.1">Period=25</text>
<line x1="492.6" y1="328.8" x2="507.3" y2="328.8" stroke="#2e6da4" stroke-width="1.4"/>
<text x="508.9" y="331.7" font-size="6.7" fill="#222" stroke="#222" stroke-width="0.1">Period=30</text>
<line x1="492.6" y1="337.0" x2="507.3" y2="337.0" stroke="#8a2bb8" stroke-width="1.4"/>
<text x="508.9" y="339.9" font-size="6.7" fill="#222" stroke="#222" stroke-width="0.1">Period=35</text>
</svg>
</body></html>
